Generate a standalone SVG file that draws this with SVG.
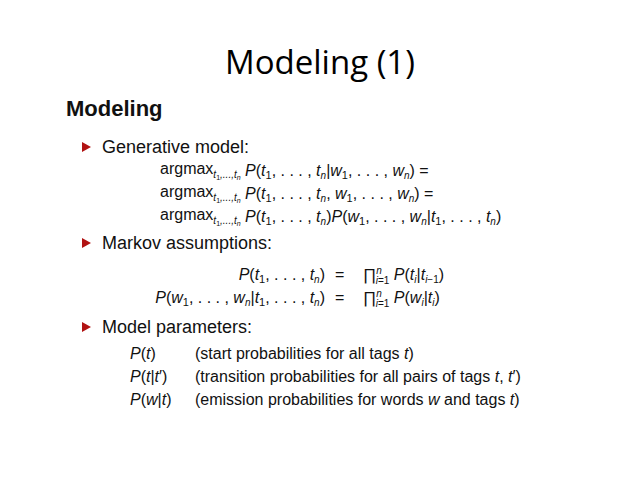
<svg xmlns="http://www.w3.org/2000/svg" width="638" height="478" viewBox="0 0 638 478">
<style>
text{font-family:"Liberation Sans",Arial,sans-serif;fill:#111}
.t{font-family:"Open Sans","Liberation Sans",sans-serif;font-size:33px;fill:#000}
.b{font-size:18px}
.f{font-size:16px}
.i{font-style:italic}
.s{font-size:10px;font-style:italic}
.bul{fill:#b11313}
</style>
<rect width="638" height="478" fill="#fff"/>
<text class="t" x="320" y="74" text-anchor="middle">Modeling (1)</text>
<text x="66" y="116" font-size="22" font-weight="bold">Modeling</text>
<polygon class="bul" points="82,142 82,152 91,147"/>
<polygon class="bul" points="82,238 82,248 91,243"/>
<polygon class="bul" points="82,322 82,332 91,327"/>
<text class="b" x="102" y="153">Generative model:</text>
<text class="b" x="102" y="249">Markov assumptions:</text>
<text class="b" x="102" y="333">Model parameters:</text>
<g class="f">
<text class="f" x="160" y="174">argmax<tspan class="s" dy="4">t</tspan><tspan font-size="7" dy="2">1</tspan><tspan class="s" dy="-2">,...,t</tspan><tspan font-size="7" class="i" dy="2">n</tspan><tspan dy="-4" class="i"> P</tspan>(<tspan class="i">t</tspan><tspan font-size="11" dy="3">1</tspan><tspan dy="-3">, . . . , </tspan><tspan class="i">t</tspan><tspan class="s" dy="3">n</tspan><tspan dy="-3">|</tspan><tspan class="i">w</tspan><tspan font-size="11" dy="3">1</tspan><tspan dy="-3">, . . . , </tspan><tspan class="i">w</tspan><tspan class="s" dy="3">n</tspan><tspan dy="-3">) =</tspan></text>
<text class="f" x="160" y="197">argmax<tspan class="s" dy="4">t</tspan><tspan font-size="7" dy="2">1</tspan><tspan class="s" dy="-2">,...,t</tspan><tspan font-size="7" class="i" dy="2">n</tspan><tspan dy="-4" class="i"> P</tspan>(<tspan class="i">t</tspan><tspan font-size="11" dy="3">1</tspan><tspan dy="-3">, . . . , </tspan><tspan class="i">t</tspan><tspan class="s" dy="3">n</tspan><tspan dy="-3">, </tspan><tspan class="i">w</tspan><tspan font-size="11" dy="3">1</tspan><tspan dy="-3">, . . . , </tspan><tspan class="i">w</tspan><tspan class="s" dy="3">n</tspan><tspan dy="-3">) =</tspan></text>
<text class="f" x="160" y="220">argmax<tspan class="s" dy="4">t</tspan><tspan font-size="7" dy="2">1</tspan><tspan class="s" dy="-2">,...,t</tspan><tspan font-size="7" class="i" dy="2">n</tspan><tspan dy="-4" class="i"> P</tspan>(<tspan class="i">t</tspan><tspan font-size="11" dy="3">1</tspan><tspan dy="-3">, . . . , </tspan><tspan class="i">t</tspan><tspan class="s" dy="3">n</tspan><tspan dy="-3">)</tspan><tspan class="i">P</tspan>(<tspan class="i">w</tspan><tspan font-size="11" dy="3">1</tspan><tspan dy="-3">, . . . , </tspan><tspan class="i">w</tspan><tspan class="s" dy="3">n</tspan><tspan dy="-3">|</tspan><tspan class="i">t</tspan><tspan font-size="11" dy="3">1</tspan><tspan dy="-3">, . . . , </tspan><tspan class="i">t</tspan><tspan class="s" dy="3">n</tspan><tspan dy="-3">)</tspan></text>
<text class="f" x="325" y="280" text-anchor="end"><tspan class="i">P</tspan>(<tspan class="i">t</tspan><tspan font-size="11" dy="3">1</tspan><tspan dy="-3">, . . . , </tspan><tspan class="i">t</tspan><tspan class="s" dy="3">n</tspan><tspan dy="-3">)</tspan></text>
<text class="f" x="325" y="303" text-anchor="end"><tspan class="i">P</tspan>(<tspan class="i">w</tspan><tspan font-size="11" dy="3">1</tspan><tspan dy="-3">, . . . , </tspan><tspan class="i">w</tspan><tspan class="s" dy="3">n</tspan><tspan dy="-3">|</tspan><tspan class="i">t</tspan><tspan font-size="11" dy="3">1</tspan><tspan dy="-3">, . . . , </tspan><tspan class="i">t</tspan><tspan class="s" dy="3">n</tspan><tspan dy="-3">)</tspan></text>
<text class="f" x="335" y="280">=</text>
<text class="f" x="335" y="303">=</text>
<text class="f" x="363" y="280">∏<tspan class="s" dy="-6">n</tspan><tspan class="s" dx="-6" dy="10">i</tspan><tspan font-size="10" dy="0">=1</tspan><tspan class="i" dy="-4"> P</tspan>(<tspan class="i">t</tspan><tspan class="s" dy="3">i</tspan><tspan dy="-3">|</tspan><tspan class="i">t</tspan><tspan class="s" dy="3">i</tspan><tspan font-size="10">−1</tspan><tspan dy="-3">)</tspan></text>
<text class="f" x="363" y="303">∏<tspan class="s" dy="-6">n</tspan><tspan class="s" dx="-6" dy="10">i</tspan><tspan font-size="10" dy="0">=1</tspan><tspan class="i" dy="-4"> P</tspan>(<tspan class="i">w</tspan><tspan class="s" dy="3">i</tspan><tspan dy="-3">|</tspan><tspan class="i">t</tspan><tspan class="s" dy="3">i</tspan><tspan dy="-3">)</tspan></text>
<text class="f" x="130" y="359"><tspan class="i">P</tspan>(<tspan class="i">t</tspan>)</text>
<text class="f" x="130" y="382"><tspan class="i">P</tspan>(<tspan class="i">t</tspan>|<tspan class="i">t</tspan>′)</text>
<text class="f" x="130" y="405"><tspan class="i">P</tspan>(<tspan class="i">w</tspan>|<tspan class="i">t</tspan>)</text>
<text class="f" x="195" y="359">(start probabilities for all tags <tspan class="i">t</tspan>)</text>
<text class="f" x="195" y="382">(transition probabilities for all pairs of tags <tspan class="i">t</tspan>, <tspan class="i">t</tspan>′)</text>
<text class="f" x="195" y="405">(emission probabilities for words <tspan class="i">w</tspan> and tags <tspan class="i">t</tspan>)</text>
</g>
</svg>
